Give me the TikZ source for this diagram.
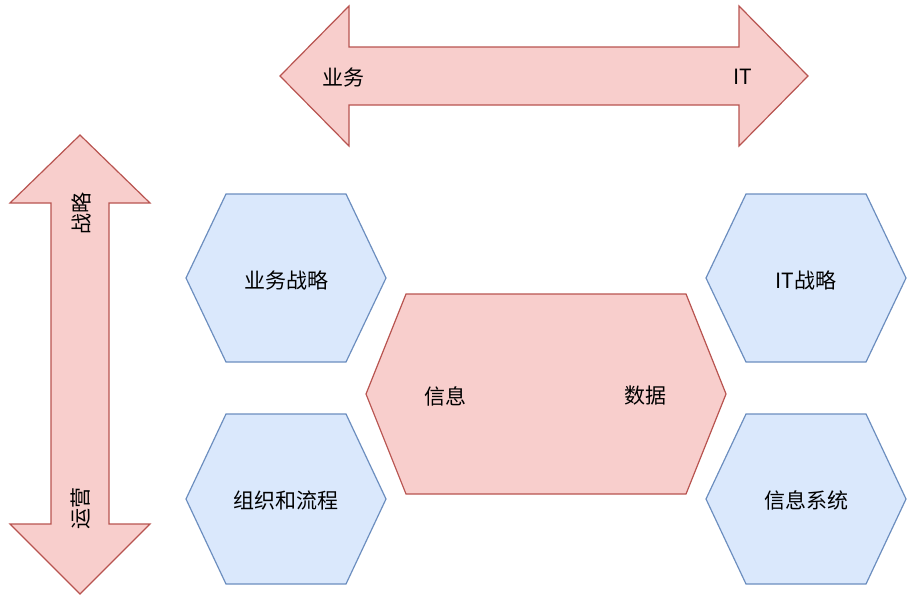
\documentclass[tikz,border=0pt]{standalone}
\usepackage{fontspec}
\setmainfont{Noto Sans CJK SC}
\begin{document}
\begin{tikzpicture}[x=1pt,y=-1pt,
  redsh/.style={fill={rgb,255:red,248;green,206;blue,204},draw={rgb,255:red,184;green,84;blue,80},line width=1.2pt,line join=miter},
  bluesh/.style={fill={rgb,255:red,218;green,232;blue,252},draw={rgb,255:red,108;green,142;blue,191},line width=1.2pt},
  lab/.style={font=\fontsize{21}{24}\selectfont}]
\useasboundingbox (0,0) rectangle (920,606);
% horizontal arrow
\draw[redsh] (280,76) -- (349,6) -- (349,47) -- (739,47) -- (739,6) -- (808,76) -- (739,146) -- (739,105) -- (349,105) -- (349,146) -- cycle;
\node[lab] (yw) at (343,77) {业务};
\node[lab] (it) at (743,77) {IT};
% vertical arrow
\draw[redsh] (80,135) -- (150,203) -- (109,203) -- (109,524) -- (150,524) -- (80,594) -- (10,524) -- (51,524) -- (51,203) -- (10,203) -- cycle;
\node[lab,rotate=90] (zl) at (81,213) {战略};
\node[lab,rotate=90] (yy) at (81,508) {运营};
% hexagons
\newcommand{\hexa}[6]{\draw[#1] (#2,#4) -- (#2+40,#3) -- (#5-40,#3) -- (#5,#4) -- (#5-40,#6) -- (#2+40,#6) -- cycle;}
\hexa{bluesh}{186}{194}{278}{386}{362}
\hexa{bluesh}{186}{414}{499}{386}{584}
\hexa{bluesh}{706}{194}{278}{906}{362}
\hexa{bluesh}{706}{414}{499}{906}{584}
\hexa{redsh}{366}{294}{394}{726}{494}
\node[lab] (a) at (286,280) {业务战略};
\node[lab] (b) at (286,500) {组织和流程};
\node[lab] (c) at (806,280) {IT战略};
\node[lab] (d) at (806,500) {信息系统};
\node[lab] (e) at (445,396) {信息};
\node[lab] (f) at (645,396) {数据};
\end{tikzpicture}
\end{document}
